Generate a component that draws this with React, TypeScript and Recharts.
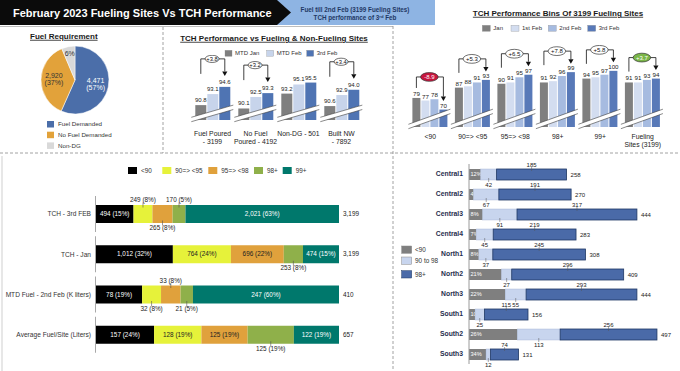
import React from 'react';
import { BarChart, Bar, XAxis, YAxis, LabelList, PieChart, Pie, Cell } from 'recharts';

const FONT = '"Liberation Sans", Arial, Helvetica, sans-serif';

// ---------------- data ----------------
const pieCategories = ['Fuel Demanded', 'No Fuel Demanded', 'Non-DG'];
const pieValues = [4471, 2920, 501];
const piePercents = [57, 37, 6];

const perfCategories = ['Fuel Poured\n- 3199', 'No Fuel\nPoured - 4192', 'Non-DG - 501', 'Built NW\n- 7892'];
const perfSeriesNames = ['MTD Jan', 'MTD Feb', '3rd Feb'];
const perfMtdJan = [90.8, 90.1, 93.2, 90.6];
const perfMtdFeb = [93.1, 92.5, 95.1, 92.9];
const perf3rdFeb = [94.6, 93.3, 95.5, 94.0];
const perfChange = ['+3.8', '+3.2', '', '+3.4'];

const binCategories = ['<90', '90=> <95', '95=> <98', '98+', '99+', 'Fueling\nSites (3199)'];
const binSeriesNames = ['Jan', '1st Feb', '2nd Feb', '3rd Feb'];
const binJan = [79, 87, 90, 91, 94, 91];
const bin1stFeb = [77, 88, 91, 92, 95, 91];
const bin2ndFeb = [78, 91, 95, 96, 97, 93];
const bin3rdFeb = [70, 93, 97, 99, 100, 94];
const binChange = ['-8.9', '+5.3', '+6.5', '+7.8', '+5.8', '+3.7'];

const tchRows = ['TCH - 3rd FEB', 'TCH - Jan', 'MTD Fuel - 2nd Feb (K liters)', 'Average Fuel/Site (Liters)'];
const tchBinNames = ['<90', '90=> <95', '95=> <98', '98+', '99+'];
const tchLt90 = [494, 1012, 78, 157];
const tch90to95 = [249, 764, 32, 128];
const tch95to98 = [265, 696, 33, 125];
const tch98 = [170, 253, 21, 125];
const tch99 = [2021, 474, 247, 122];
const tchLt90Pct = [15, 32, 19, 24];
const tch90to95Pct = [8, 24, 8, 19];
const tch95to98Pct = [8, 22, 8, 19];
const tch98Pct = [5, 8, 5, 19];
const tch99Pct = [63, 15, 60, 19];
const tchTotals = [3199, 3199, 410, 657];

const regions = ['Central1', 'Central2', 'Central3', 'Central4', 'North1', 'North2', 'North3', 'South1', 'South2', 'South3'];
const regionSeriesNames = ['<90', '90 to 98', '98+'];
const regionLt90 = [31, 12, 36, 19, 26, 86, 96, 16, 128, 45];
const region90to98 = [42, 67, 91, 45, 37, 27, 55, 25, 113, 12];
const region98 = [185, 191, 317, 219, 245, 296, 293, 115, 256, 74];
const regionLt90Pct = [12, 4, 8, 7, 8, 21, 22, 10, 26, 34];
const regionTotals = [258, 270, 444, 283, 308, 409, 444, 156, 497, 131];

// ---------------- styling / layout ----------------
const PIE_COLORS = ['#4b6ea9', '#e2a23a', '#d9d9d9'];
const PERF_COLORS = ['#7f7f7f', '#c7d4eb', '#4f74b3'];
const BIN_COLORS = ['#7f7f7f', '#d3ddf0', '#a6bbe0', '#5879b8'];
const TCH_COLORS = ['#000000', '#e6f23a', '#e0a13c', '#8fb04a', '#00786c'];
const TCH_TEXT = ['#ffffff', '#222222', '#222222', '#222222', '#ffffff'];
const REG_COLORS = ['#7f7f7f', '#c8d5ee', '#4a6aa8'];
const PERF_MIN = 87.7;
const PERF_MAX = 100.2;
const BIN_MIN = 56.5;
const BIN_MAX = 108.4;
const PERF_GAP = 1;
const BIN_GAP = 1;
const TCH_OUTSIDE: Record<string, 'above' | 'below'> = {
  '0-1': 'above', '0-2': 'below', '0-3': 'above',
  '1-3': 'below',
  '2-1': 'below', '2-2': 'above', '2-3': 'below',
  '3-3': 'below',
};

const fmt = (v: number) => v.toLocaleString('en-US');

const pieData = pieCategories.map((name, i) => ({ name, value: pieValues[i] }));
const perfData = perfCategories.map((name, i) => ({ name, jan: perfMtdJan[i], feb: perfMtdFeb[i], d3: perf3rdFeb[i] }));
const binData = binCategories.map((name, i) => ({ name, jan: binJan[i], f1: bin1stFeb[i], f2: bin2ndFeb[i], f3: bin3rdFeb[i] }));
const tchValues = [tchLt90, tch90to95, tch95to98, tch98, tch99];
const tchPercents = [tchLt90Pct, tch90to95Pct, tch95to98Pct, tch98Pct, tch99Pct];
const tchData = tchRows.map((name, i) => ({ name, s0: tchLt90[i], s1: tch90to95[i], s2: tch95to98[i], s3: tch98[i], s4: tch99[i] }));
const regData = regions.map((name, i) => ({ name, r0: regionLt90[i], r1: region90to98[i], r2: region98[i] }));

// ---------------- helpers ----------------
function Stripe({ left, right, base, slope }: any) {
  const L = left - 4;
  const R = right + 3;
  const y0 = base - 0.5;
  const y1 = y0 - slope * (R - L);
  const t = 2.2;
  return (
    <g>
      <polygon points={`${L},${y0 - t} ${R},${y1 - t} ${R},${y1 + t} ${L},${y0 + t}`} fill="#ffffff" />
      <line x1={L} y1={y0 - t} x2={R} y2={y1 - t} stroke="#3a3a3a" strokeWidth={0.6} />
      <line x1={L} y1={y0 + t} x2={R} y2={y1 + t} stroke="#3a3a3a" strokeWidth={0.6} />
    </g>
  );
}

function Callout({ x1, x2, yTop, legBottom, tip, label, rx, ry, fontSize, fill = '#fff', color = '#111', frac = 0.47 }: any) {
  const ex = x1 + (x2 - x1) * frac;
  const ah = 4.5;
  const aw = 2.6;
  return (
    <g>
      <polyline points={`${x1},${legBottom} ${x1},${yTop} ${x2},${yTop} ${x2},${tip - ah}`} fill="none" stroke="#111" strokeWidth={0.8} />
      <polygon points={`${x2 - aw},${tip - ah} ${x2 + aw},${tip - ah} ${x2},${tip}`} fill="#111" />
      <ellipse cx={ex} cy={yTop} rx={rx} ry={ry} fill={fill} stroke="#333" strokeWidth={0.7} />
      <text x={ex} y={yTop} dy="0.35em" textAnchor="middle" fontSize={fontSize} fill={color} fontFamily={FONT}>{label}</text>
    </g>
  );
}

const MultiTick = (fontSize: number, lineH: number, dy0: number) => (p: any) => {
  const { x, y, payload } = p;
  const lines = String(payload.value).split('\n');
  return (
    <text x={x} y={y + dy0} textAnchor="middle" fontSize={fontSize} fill="#222" fontFamily={FONT}>
      {lines.map((l, i) => (
        <tspan key={i} x={x} dy={i === 0 ? 0 : lineH}>{l}</tspan>
      ))}
    </text>
  );
};

const SideTick = (fontSize: number, fill: string, fontWeight: string) => (p: any) => {
  const { x, y, payload } = p;
  return (
    <text x={x} y={y} dy="0.35em" textAnchor="end" fontSize={fontSize} fill={fill} fontWeight={fontWeight} fontFamily={FONT}>
      {payload.value}
    </text>
  );
};

const perfShape = (s: number) => (p: any) => {
  const { x, y, width, height, index } = p;
  if (s < 2) return <rect x={x} y={y} width={width} height={height} fill={PERF_COLORS[s]} />;
  const base = y + height;
  const step = width + PERF_GAP;
  const groupLeft = x - 2 * step;
  const ppu = height / (perf3rdFeb[index] - PERF_MIN);
  const topOf = (u: number) => base - (u - PERF_MIN) * ppu;
  const groupTop = Math.min(topOf(perfMtdJan[index]), topOf(perfMtdFeb[index]), topOf(perf3rdFeb[index]));
  const change = perfChange[index];
  const yTop = groupTop - 28;
  return (
    <g>
      <rect x={x} y={y} width={width} height={height} fill={PERF_COLORS[2]} />
      <Stripe left={groupLeft} right={x + width} base={base} slope={0.29} />
      {change ? (
        <Callout x1={groupLeft + width / 2} x2={x + width / 2} yTop={yTop} legBottom={yTop + 15} tip={y - 11}
          label={change} rx={7} ry={3.6} fontSize={5.8} />
      ) : null}
    </g>
  );
};

const binShape = (s: number) => (p: any) => {
  const { x, y, width, height, index } = p;
  if (s < 3) return <rect x={x} y={y} width={width} height={height} fill={BIN_COLORS[s]} />;
  const base = y + height;
  const step = width + BIN_GAP;
  const groupLeft = x - 3 * step;
  const ppu = height / (bin3rdFeb[index] - BIN_MIN);
  const topOf = (u: number) => base - (u - BIN_MIN) * ppu;
  const janTop = topOf(binJan[index]);
  const groupTop = Math.min(janTop, topOf(bin1stFeb[index]), topOf(bin2ndFeb[index]), topOf(bin3rdFeb[index]));
  const change = binChange[index];
  const yTop = groupTop - 21;
  const neg = change.startsWith('-');
  const last = index === binCategories.length - 1;
  const fill = neg ? '#c8163e' : last ? '#7ab648' : '#ffffff';
  const color = neg || last ? '#ffffff' : '#111';
  return (
    <g>
      <rect x={x} y={y} width={width} height={height} fill={BIN_COLORS[3]} />
      <Stripe left={groupLeft} right={x + width} base={base} slope={0.36} />
      <Callout x1={groupLeft + width / 2} x2={x + width / 2} yTop={yTop} legBottom={Math.min(yTop + 14, janTop - 10)} tip={y - 8.5}
        label={change} rx={8.8} ry={4.4} fontSize={6} fill={fill} color={color} frac={0.48} />
    </g>
  );
};

const tchShape = (s: number) => (p: any) => {
  const { x, y, width, height, index } = p;
  const cx = x + width / 2;
  const txt = `${fmt(tchValues[s][index])} (${tchPercents[s][index]}%)`;
  const place = TCH_OUTSIDE[`${index}-${s}`];
  const fs = 6.4;
  return (
    <g>
      {s === 0 ? <line x1={x - 0.5} x2={x - 0.5} y1={y - 9} y2={y + height + 9} stroke="#a8a8a8" strokeWidth={1} /> : null}
      <rect x={x} y={y} width={width} height={height} fill={TCH_COLORS[s]} />
      {place === 'above' ? (
        <g>
          <line x1={cx} x2={cx} y1={y - 2.5} y2={y + 2.5} stroke="#555" strokeWidth={0.6} />
          <text x={cx} y={y - 5} dy="0.35em" textAnchor="middle" fontSize={fs} fill="#222" fontFamily={FONT}>{txt}</text>
        </g>
      ) : place === 'below' ? (
        <g>
          <line x1={cx} x2={cx} y1={y + height - 2.5} y2={y + height + 2.5} stroke="#555" strokeWidth={0.6} />
          <text x={cx} y={y + height + 5} dy="0.35em" textAnchor="middle" fontSize={fs} fill="#222" fontFamily={FONT}>{txt}</text>
        </g>
      ) : (
        <text x={cx} y={y + height / 2} dy="0.35em" textAnchor="middle" fontSize={fs} fill={TCH_TEXT[s]} fontFamily={FONT}>{txt}</text>
      )}
      {s === 4 ? (
        <text x={x + width + 4} y={y + height / 2} dy="0.35em" textAnchor="start" fontSize={fs} fill="#222" fontFamily={FONT}>{fmt(tchTotals[index])}</text>
      ) : null}
    </g>
  );
};

const regShape = (s: number) => (p: any) => {
  const { x, y, width, height, index } = p;
  const cx = x + width / 2;
  const fs = 6;
  if (s === 0) {
    return (
      <g>
        <rect x={x} y={y} width={width} height={height} fill={REG_COLORS[0]} />
        <text x={x + 1.5} y={y + height / 2} dy="0.35em" fontSize={5.6} fill="#fff" fontFamily={FONT}>{regionLt90Pct[index]}%</text>
      </g>
    );
  }
  if (s === 1) {
    return (
      <g>
        <rect x={x} y={y} width={width} height={height} fill={REG_COLORS[1]} stroke="#9fb1d3" strokeWidth={0.4} />
        <line x1={cx} x2={cx} y1={y + height - 2} y2={y + height + 2} stroke="#555" strokeWidth={0.5} />
        <text x={cx} y={y + height + 4.6} dy="0.35em" textAnchor="middle" fontSize={fs} fill="#222" fontFamily={FONT}>{fmt(region90to98[index])}</text>
      </g>
    );
  }
  return (
    <g>
      <rect x={x} y={y} width={width} height={height} fill={REG_COLORS[2]} stroke="#1f3864" strokeWidth={0.8} />
      <line x1={cx} x2={cx} y1={y - 2} y2={y + 2} stroke="#555" strokeWidth={0.5} />
      <text x={cx} y={y - 4.6} dy="0.35em" textAnchor="middle" fontSize={fs} fill="#222" fontFamily={FONT}>{fmt(region98[index])}</text>
      <text x={x + width + 4} y={y + height / 2} dy="0.35em" fontSize={fs} fill="#222" fontFamily={FONT}>{fmt(regionTotals[index])}</text>
    </g>
  );
};

const renderPieLabel = (p: any) => {
  const { cx, cy, midAngle, outerRadius, index } = p;
  const RAD = Math.PI / 180;
  const r = outerRadius * (index === 2 ? 0.78 : 0.62);
  const x = cx + r * Math.cos(-midAngle * RAD);
  const y = cy + r * Math.sin(-midAngle * RAD);
  const color = index === 0 ? '#ffffff' : '#333333';
  if (index === 2) {
    return <text x={x} y={y} dy="0.35em" textAnchor="middle" fontSize={7} fill={color} fontFamily={FONT}>{piePercents[index]}%</text>;
  }
  return (
    <text x={x} y={y} textAnchor="middle" fontSize={7} fill={color} fontFamily={FONT}>
      <tspan x={x} dy="-0.25em">{fmt(pieValues[index])}</tspan>
      <tspan x={x} dy="1.05em">({piePercents[index]}%)</tspan>
    </text>
  );
};

const abs = (left: number, top: number): React.CSSProperties => ({ position: 'absolute', left, top });

export default function App() {
  const tTitle = { fontSize: 8, fontWeight: 'bold' as const, fill: '#1a1a1a', fontFamily: FONT, style: { textDecoration: 'underline' } };
  const tLeg = { fontSize: 6, fill: '#333', fontFamily: FONT };
  const dash = { stroke: '#8a8a8a', strokeWidth: 0.8, strokeDasharray: '3 2' };
  const perfLegX = [225, 266.7, 306.7];
  const binLegX = [482.3, 511, 548.3, 587.7];
  const tchLegX = [128, 162.3, 208.3, 254, 282.7];
  const regLegY = [246, 257, 270.7];
  return (
    <div style={{ position: 'absolute', left: 0, top: 0, width: 680, height: 371, background: '#fff', overflow: 'hidden', fontFamily: FONT }}>
      <svg width={680} height={371} style={abs(0, 0)}>
        {/* header */}
        <rect x={270} y={0} width={165} height={25} fill="#8eb4e3" />
        <polygon points="0,0 277,0 291,12.5 277,25 0,25" fill="#0b0b0b" />
        <text x={13} y={13.5} dy="0.35em" fontSize={11} fontWeight="bold" fill="#fff" fontFamily={FONT}>February 2023 Fueling Sites Vs TCH Performance</text>
        <text x={355} y={9.3} dy="0.35em" textAnchor="middle" fontSize={6.3} fontWeight="bold" fill="#1f3864" fontFamily={FONT}>Fuel till 2nd  Feb (3199 Fueling Sites)</text>
        <text x={355} y={17.3} dy="0.35em" textAnchor="middle" fontSize={6.3} fontWeight="bold" fill="#1f3864" fontFamily={FONT}>
          TCH performance of 3<tspan fontSize={4.2} baselineShift="super">rd</tspan> Feb
        </text>
        {/* panel borders */}
        <line x1={0} y1={26.5} x2={393} y2={26.5} stroke="#bdbdbd" strokeWidth={1} />
        <line x1={163} y1={27} x2={163} y2={153} {...dash} />
        <line x1={393} y1={26} x2={393} y2={371} {...dash} />
        <line x1={0} y1={153} x2={680} y2={153} {...dash} />
        <line x1={2} y1={156} x2={2} y2={371} stroke="#cfcfcf" strokeWidth={1} />
        {/* pie title & legend */}
        <text x={30} y={36} dy="0.35em" {...tTitle}>Fuel Requirement</text>
        {pieCategories.map((c, i) => (
          <g key={c}>
            <rect x={47} y={121 + i * 10.7} width={7} height={6.5} fill={PIE_COLORS[i]} />
            <text x={58} y={124.3 + i * 10.7} dy="0.35em" fontSize={6.2} fill="#333" fontFamily={FONT}>{c}</text>
          </g>
        ))}
        {/* perf title & legend */}
        <text x={274} y={38} dy="0.35em" textAnchor="middle" {...tTitle}>TCH Performance vs Fueling &amp; Non-Fueling Sites</text>
        {perfSeriesNames.map((n, i) => (
          <g key={n}>
            <rect x={perfLegX[i]} y={50.3} width={7} height={6} fill={PERF_COLORS[i]} stroke="#888" strokeWidth={0.3} />
            <text x={perfLegX[i] + 10} y={53.3} dy="0.35em" {...tLeg}>{n}</text>
          </g>
        ))}
        {/* bins title & legend */}
        <text x={558} y={13} dy="0.35em" textAnchor="middle" {...tTitle}>TCH Performance Bins Of 3199 Fueling Sites</text>
        {binSeriesNames.map((n, i) => (
          <g key={n}>
            <rect x={binLegX[i]} y={25.3} width={8} height={6} fill={BIN_COLORS[i]} stroke="#888" strokeWidth={0.3} />
            <text x={binLegX[i] + 11} y={28.3} dy="0.35em" {...tLeg}>{n}</text>
          </g>
        ))}
        {/* tch legend */}
        {tchBinNames.map((n, i) => (
          <g key={n}>
            <rect x={tchLegX[i]} y={167} width={9} height={7} fill={TCH_COLORS[i]} />
            <text x={tchLegX[i] + 13} y={170.7} dy="0.35em" fontSize={6.4} fill="#333" fontFamily={FONT}>{n}</text>
          </g>
        ))}
        {/* region legend */}
        {regionSeriesNames.map((n, i) => (
          <g key={n}>
            <rect x={401.7} y={regLegY[i]} width={10} height={7.3} fill={REG_COLORS[i]} stroke={i === 2 ? '#1f3864' : '#888'} strokeWidth={0.5} />
            <text x={415} y={regLegY[i] + 3.6} dy="0.35em" fontSize={6.4} fill="#333" fontFamily={FONT}>{n}</text>
          </g>
        ))}
      </svg>

      {/* Pie */}
      <div style={abs(0, 30)}>
        <PieChart width={150} height={100} margin={{ top: 0, right: 0, bottom: 0, left: 0 }}>
          <Pie data={pieData} dataKey="value" nameKey="name" cx={75} cy={50} outerRadius={34} startAngle={90} endAngle={-270}
            stroke="#fff" strokeWidth={0.5} label={renderPieLabel} labelLine={false} isAnimationActive={false}>
            {pieData.map((d, i) => <Cell key={d.name} fill={PIE_COLORS[i]} />)}
          </Pie>
        </PieChart>
      </div>

      {/* Perf grouped bars */}
      <div style={abs(180, 55)}>
        <BarChart width={200} height={100} data={perfData} margin={{ top: 5, right: 17, bottom: 0, left: 11 }} barCategoryGap="10%" barGap={PERF_GAP}>
          <XAxis dataKey="name" axisLine={false} tickLine={false} tickSize={0} tickMargin={0} height={35} interval={0} tick={MultiTick(6.8, 8.5, 15.5)} />
          <YAxis hide domain={[PERF_MIN, PERF_MAX]} />
          <Bar dataKey="jan" isAnimationActive={false} shape={perfShape(0)}>
            <LabelList dataKey="jan" position="top" offset={3} fontSize={6} fill="#222" formatter={(v: any) => Number(v).toFixed(1)} />
          </Bar>
          <Bar dataKey="feb" isAnimationActive={false} shape={perfShape(1)}>
            <LabelList dataKey="feb" position="top" offset={3} fontSize={6} fill="#222" formatter={(v: any) => Number(v).toFixed(1)} />
          </Bar>
          <Bar dataKey="d3" isAnimationActive={false} shape={perfShape(2)}>
            <LabelList dataKey="d3" position="top" offset={3} fontSize={6} fill="#222" formatter={(v: any) => Number(v).toFixed(1)} />
          </Bar>
        </BarChart>
      </div>

      {/* Bins grouped bars */}
      <div style={abs(400, 45)}>
        <BarChart width={275} height={110} data={binData} margin={{ top: 15, right: 11, bottom: 0, left: 9 }} barCategoryGap="8%" barGap={BIN_GAP}>
          <XAxis dataKey="name" axisLine={false} tickLine={false} tickSize={0} tickMargin={0} height={28} interval={0} tick={MultiTick(6.8, 8, 11.5)} />
          <YAxis hide domain={[BIN_MIN, BIN_MAX]} />
          <Bar dataKey="jan" isAnimationActive={false} shape={binShape(0)}>
            <LabelList dataKey="jan" position="top" offset={2} fontSize={6.2} fill="#222" />
          </Bar>
          <Bar dataKey="f1" isAnimationActive={false} shape={binShape(1)}>
            <LabelList dataKey="f1" position="top" offset={2} fontSize={6.2} fill="#222" />
          </Bar>
          <Bar dataKey="f2" isAnimationActive={false} shape={binShape(2)}>
            <LabelList dataKey="f2" position="top" offset={2} fontSize={6.2} fill="#222" />
          </Bar>
          <Bar dataKey="f3" isAnimationActive={false} shape={binShape(3)}>
            <LabelList dataKey="f3" position="top" offset={2} fontSize={6.2} fill="#222" />
          </Bar>
        </BarChart>
      </div>

      {/* TCH 100% stacked bars */}
      <div style={abs(0, 190)}>
        <BarChart width={390} height={170} data={tchData} layout="vertical" stackOffset="expand" margin={{ top: 4, right: 51, bottom: 5, left: 0 }} barSize={18}>
          <XAxis type="number" hide />
          <YAxis type="category" dataKey="name" width={96} axisLine={false} tickLine={false} tickSize={3} tickMargin={2} interval={0}
            tick={SideTick(6.6, '#333', 'normal')} />
          {[0, 1, 2, 3, 4].map((s) => (
            <Bar key={s} dataKey={`s${s}`} stackId="a" isAnimationActive={false} shape={tchShape(s)} />
          ))}
        </BarChart>
      </div>

      {/* Regions stacked bars */}
      <div style={abs(400, 160)}>
        <BarChart width={280} height={208} data={regData} layout="vertical" margin={{ top: 4, right: 3, bottom: 4, left: 0 }} barSize={11}>
          <XAxis type="number" hide domain={[0, 550]} />
          <YAxis type="category" dataKey="name" width={69} axisLine={{ stroke: '#9a9a9a' }} tickLine={false} tickSize={3} tickMargin={3} interval={0}
            tick={SideTick(6.8, '#1f2d4d', 'bold')} />
          {[0, 1, 2].map((s) => (
            <Bar key={s} dataKey={`r${s}`} stackId="r" isAnimationActive={false} shape={regShape(s)} />
          ))}
        </BarChart>
      </div>
    </div>
  );
}
